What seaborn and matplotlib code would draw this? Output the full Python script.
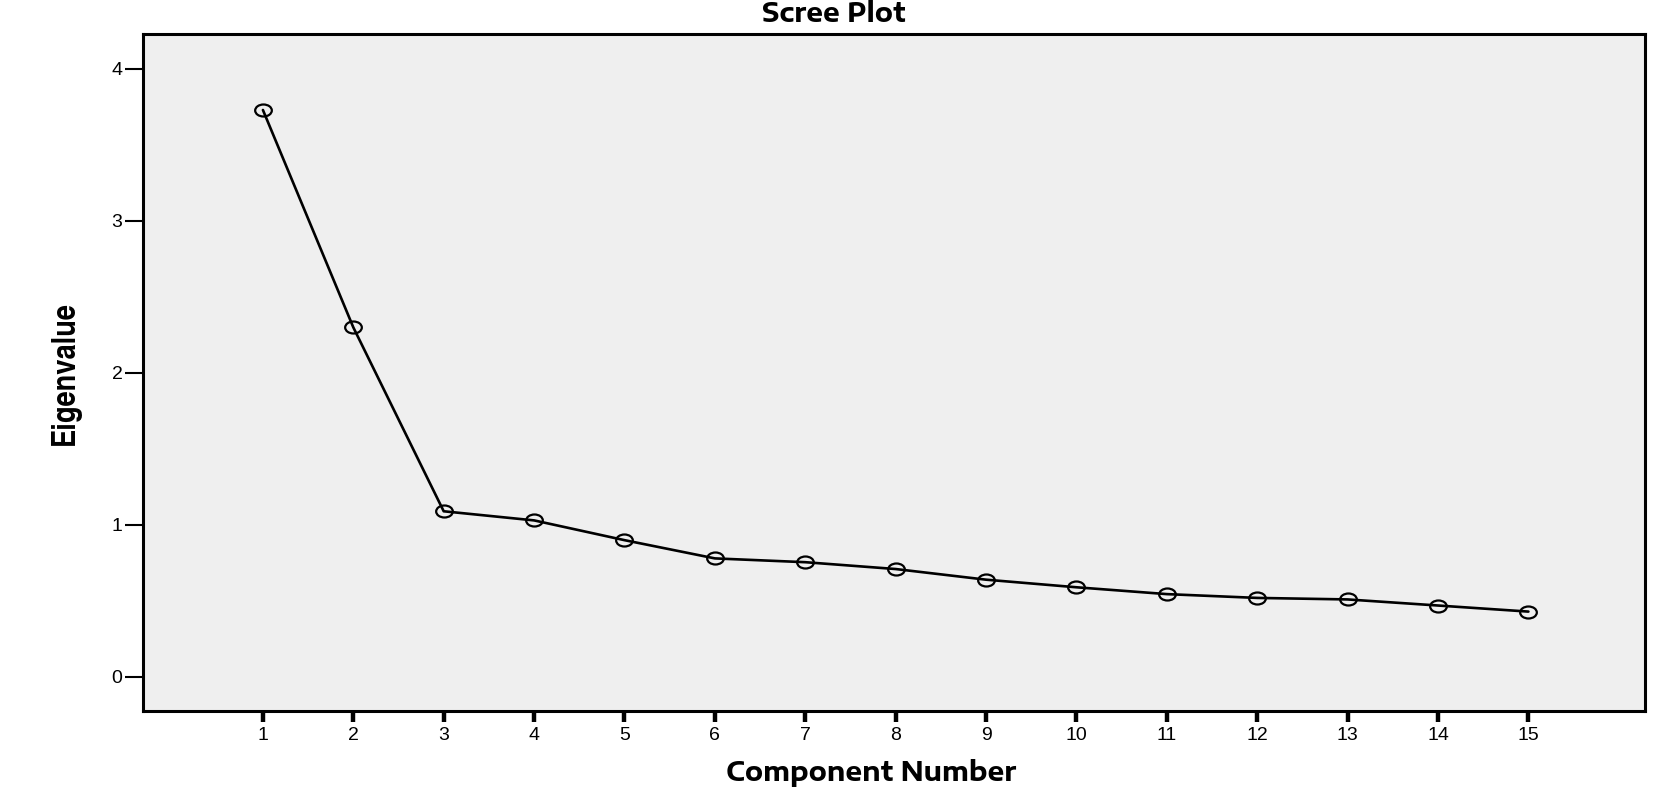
import numpy as np
import pandas as pd
import matplotlib
matplotlib.use("Agg")
import matplotlib.pyplot as plt
from matplotlib.path import Path
import seaborn as sns

# ---- data ----
components = [1, 2, 3, 4, 5, 6, 7, 8, 9, 10, 11, 12, 13, 14, 15]
eigenvalues = [3.73, 2.30, 1.09, 1.03, 0.90, 0.78, 0.755, 0.71, 0.64, 0.59,
               0.545, 0.52, 0.51, 0.47, 0.43]
x_ticks = components
y_ticks = [0, 1, 2, 3, 4]
title = "Scree Plot"
x_label = "Component Number"
y_label = "Eigenvalue"

df = pd.DataFrame({"Component Number": components, "Eigenvalue": eigenvalues})

sns.set_style("white")
plt.rcParams["font.family"] = ["Liberation Sans", "DejaVu Sans"]
plt.rcParams["text.color"] = "black"

W, H = 1654, 810
fig = plt.figure(figsize=(W / 100, H / 100), dpi=100)
ax = fig.add_axes([142.7 / W, 1 - 710.7 / H, (1645 - 142.7) / W, (710.7 - 34.3) / H])
ax.set_facecolor("#efefef")

# slightly flattened open circle marker
circ = Path.unit_circle()
ell = Path(circ.vertices * np.array([1.0, 0.72]), circ.codes)

sns.lineplot(data=df, x="Component Number", y="Eigenvalue", ax=ax,
             color="black", linewidth=1.9, marker=ell, markersize=12,
             markerfacecolor="none", markeredgecolor="black",
             markeredgewidth=1.6)

ax.set_xlim(-0.33, 16.29)
ax.set_ylim(-0.222, 4.228)
ax.set_xticks(x_ticks)
ax.set_xticklabels([str(v) for v in x_ticks])
ax.set_yticks(y_ticks)
ax.set_yticklabels([str(v) for v in y_ticks])
ax.set_xlabel("")
ax.set_ylabel("")

for s in ax.spines.values():
    s.set_visible(True)
    s.set_color("black")
    s.set_linewidth(2.2)

ax.tick_params(axis="y", direction="out", length=13, width=1.5, pad=1.5,
               labelsize=14, colors="black", left=True)
ax.tick_params(axis="x", direction="out", length=8, width=3.2, pad=4,
               labelsize=14, colors="black", bottom=True)
ax.grid(False)

wide = ["Encode Sans Expanded", "Liberation Sans", "DejaVu Sans"]
narrow = ["TeX Gyre Heros Cn", "Roboto Condensed", "Liberation Sans", "DejaVu Sans"]

fig.text(834 / W, 1 - 14 / H, title, ha="center", va="center",
         fontsize=19, fontweight="bold", family=wide)
fig.text(871 / W, 1 - 773 / H, x_label, ha="center", va="center",
         fontsize=19, fontweight="bold", family=wide)
fig.text(65 / W, 1 - 373 / H, y_label, ha="center", va="center",
         rotation=90, fontsize=24, fontweight="bold", family=narrow)

fig.savefig("out.png", dpi=100, facecolor="white")
